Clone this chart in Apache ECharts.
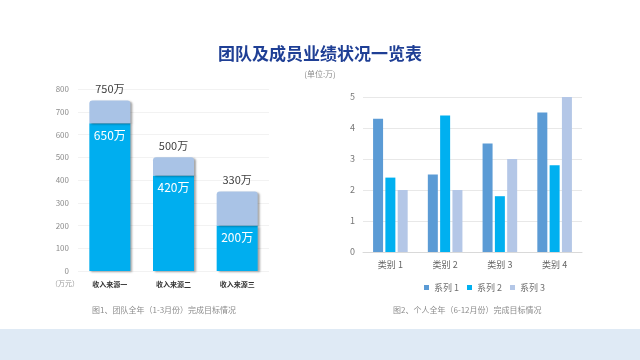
<!DOCTYPE html>
<html>
<head>
<meta charset="utf-8">
<script src="https://cdn.jsdelivr.net/npm/echarts@6/dist/echarts.min.js"></script>
<style>html,body{margin:0;padding:0;background:#fff;}#c{width:640px;height:360px;}</style>
</head>
<body>
<div id="c"></div>
<script>
var leftCategories = ['收入来源一', '收入来源二', '收入来源三'];
var leftDone = [650, 420, 200];
var leftTotal = [750, 500, 350];
var leftDoneLabels = ['650万', '420万', '200万'];
var leftTotalLabels = ['750万', '500万', '330万'];
var leftTicks = [0, 100, 200, 300, 400, 500, 600, 700, 800];

var rightCategories = ['类别 1', '类别 2', '类别 3', '类别 4'];
var series1 = [4.3, 2.5, 3.5, 4.5];
var series2 = [2.4, 4.4, 1.8, 2.8];
var series3 = [2.0, 2.0, 3.0, 5.0];
var seriesNames = ['系列 1', '系列 2', '系列 3'];

var FONT = '"Microsoft YaHei","Noto Sans CJK SC",sans-serif';
var leftRemain = leftTotal.map(function (t, i) { return t - leftDone[i]; });

var chart = echarts.init(document.getElementById('c'));
var shadow = {shadowColor: 'rgba(0,0,0,0.35)', shadowBlur: 2, shadowOffsetX: 2, shadowOffsetY: 1};
chart.setOption({
  backgroundColor: '#ffffff',
  textStyle: {fontFamily: FONT},
  title: [
    {text: '团队及成员业绩状况一览表', left: 'center', top: 40,
     textStyle: {fontSize: 17, fontWeight: 'bold', color: '#1f3f95', fontFamily: FONT}},
    {text: '(单位:万)', left: 'center', top: 65,
     textStyle: {fontSize: 8, fontWeight: 'normal', color: '#8c8c8c', fontFamily: FONT}}
  ],
  legend: {
    data: seriesNames, left: 419, top: 278, itemWidth: 5, itemHeight: 5, itemGap: 8,
    icon: 'rect', textStyle: {fontSize: 9, color: '#707070', fontFamily: FONT}
  },
  grid: [
    {left: 78, right: 371, top: 89, bottom: 89},
    {left: 363, right: 58, top: 97, bottom: 108}
  ],
  xAxis: [
    {type: 'category', gridIndex: 0, data: leftCategories,
     axisLine: {show: false}, axisTick: {show: false},
     axisLabel: {fontSize: 7, color: '#333', fontWeight: 'bold', margin: 10}},
    {type: 'category', gridIndex: 1, data: rightCategories,
     axisLine: {lineStyle: {color: '#d9d9d9'}}, axisTick: {show: false},
     axisLabel: {fontSize: 9, color: '#666', margin: 8}}
  ],
  yAxis: [
    {type: 'value', gridIndex: 0, min: 0, max: 800, interval: 100,
     axisLine: {show: false}, axisTick: {show: false},
     axisLabel: {fontSize: 8, color: '#8c8c8c', margin: 9},
     splitLine: {lineStyle: {color: '#f2f2f2'}}},
    {type: 'value', gridIndex: 1, min: 0, max: 5, interval: 1,
     axisLine: {show: false}, axisTick: {show: false},
     axisLabel: {fontSize: 9, color: '#777', margin: 8},
     splitLine: {lineStyle: {color: '#e8e8e8'}}}
  ],
  series: [
    {type: 'bar', xAxisIndex: 0, yAxisIndex: 0, stack: 'a', barWidth: 41, data: leftDone,
     itemStyle: Object.assign({color: '#00aeef'}, shadow),
     label: {show: true, position: 'insideTop', distance: 6, color: '#fff', fontSize: 12,
       formatter: function (p) { return leftDoneLabels[p.dataIndex]; }}},
    {type: 'bar', xAxisIndex: 0, yAxisIndex: 0, stack: 'a', barWidth: 41, data: leftRemain,
     itemStyle: Object.assign({color: '#a9c3e6', borderRadius: [3, 3, 0, 0]}, shadow),
     label: {show: true, position: 'top', distance: 6, color: '#404040', fontSize: 11,
       formatter: function (p) { return leftTotalLabels[p.dataIndex]; }}},
    {name: seriesNames[0], type: 'bar', xAxisIndex: 1, yAxisIndex: 1, barWidth: 10, barGap: '23%',
     data: series1, itemStyle: {color: '#5b9bd5'}},
    {name: seriesNames[1], type: 'bar', xAxisIndex: 1, yAxisIndex: 1, barWidth: 10, barGap: '23%',
     data: series2, itemStyle: {color: '#00b0f0'}},
    {name: seriesNames[2], type: 'bar', xAxisIndex: 1, yAxisIndex: 1, barWidth: 10, barGap: '23%',
     data: series3, itemStyle: {color: '#b4c7e7'}}
  ],
  graphic: [
    {type: 'rect', left: 0, top: 329, shape: {width: 640, height: 31}, style: {fill: '#dfeaf5'}, z: -1},
    {type: 'text', left: 51, top: 280, style: {text: '（万元）', fill: '#999', font: '7px ' + FONT}},
    {type: 'text', left: 92, top: 306, style: {text: '图1、团队全年（1-3月份）完成目标情况', fill: '#8c8c8c', font: '8px ' + FONT}},
    {type: 'text', left: 393, top: 306, style: {text: '图2、个人全年（6-12月份）完成目标情况', fill: '#8c8c8c', font: '8px ' + FONT}}
  ]
});
</script>
</body>
</html>
